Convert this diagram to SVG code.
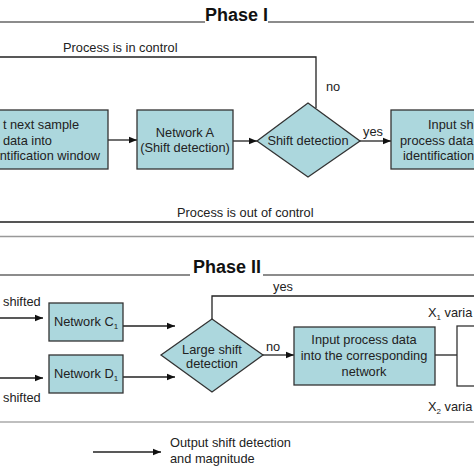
<svg xmlns="http://www.w3.org/2000/svg" width="474" height="474" viewBox="0 0 474 474">
<defs>
<marker id="ah" markerWidth="9" markerHeight="8" refX="8" refY="4" orient="auto" markerUnits="userSpaceOnUse">
<path d="M0,0.8 L8,4 L0,7.2 Z" fill="#111"/>
</marker>
<style>
.t{font-family:"Liberation Sans",Arial,sans-serif;font-size:12.8px;fill:#222}
.m{text-anchor:middle}
.h{font-family:"Liberation Sans",Arial,sans-serif;font-size:18px;font-weight:bold;fill:#111}
.box{fill:#acd7dd;stroke:#333;stroke-width:1.3}
.wbox{fill:#fff;stroke:#333;stroke-width:1.3}
.ln{fill:none;stroke:#222;stroke-width:1.3}
.ar{fill:none;stroke:#222;stroke-width:1.3;marker-end:url(#ah)}
.sep{stroke:#666;stroke-width:1.5}
</style>
</defs>
<rect width="474" height="474" fill="#fff"/>

<!-- section titles and separators -->
<g id="phase1-title">
<line class="sep" x1="0" y1="22" x2="205" y2="22"/>
<line class="sep" x1="268" y1="22" x2="474" y2="22"/>
<text class="h" x="205" y="21">Phase I</text>
</g>
<g id="separators">
<line x1="0" y1="222" x2="474" y2="222" stroke="#555" stroke-width="2"/>
<line x1="0" y1="236.5" x2="474" y2="236.5" stroke="#999" stroke-width="1.5"/>
<line x1="0" y1="422" x2="474" y2="422" stroke="#aaa" stroke-width="1.5"/>
</g>
<g id="phase2-title">
<line class="sep" x1="0" y1="275" x2="190" y2="275"/>
<line class="sep" x1="263" y1="275" x2="474" y2="275"/>
<text class="h" x="193" y="273">Phase II</text>
</g>

<!-- connectors -->
<g id="connectors">
<polyline class="ln" points="0,57 316,57 316,108"/>
<line class="ar" x1="108" y1="140" x2="137" y2="140"/>
<line class="ar" x1="233" y1="141" x2="257" y2="141"/>
<line class="ar" x1="360" y1="141" x2="391" y2="141"/>
<line class="ar" x1="0" y1="318" x2="43" y2="318"/>
<line class="ar" x1="0" y1="378" x2="43" y2="378"/>
<line class="ar" x1="123" y1="326" x2="175" y2="326"/>
<line class="ar" x1="123" y1="377" x2="175" y2="377"/>
<polyline class="ln" points="212,319 212,296 474,296"/>
<line class="ar" x1="263" y1="355" x2="294" y2="355"/>
<line class="ln" x1="435" y1="355" x2="457" y2="355"/>
<line class="ar" x1="93" y1="452" x2="161" y2="452"/>
</g>

<!-- connector labels -->
<g id="labels">
<text class="t" x="63" y="52">Process is in control</text>
<text class="t" x="326" y="91">no</text>
<text class="t" x="363" y="136">yes</text>
<text class="t" x="177" y="217">Process is out of control</text>
<text class="t" x="273" y="291">yes</text>
<text class="t" x="3" y="306">shifted</text>
<text class="t" x="3" y="402">shifted</text>
<text class="t" x="266" y="351">no</text>
<text class="t" x="428" y="317">X<tspan font-size="8" dy="3">1</tspan><tspan dy="-3"> varia</tspan></text>
<text class="t" x="428" y="411">X<tspan font-size="8" dy="3">2</tspan><tspan dy="-3"> varia</tspan></text>
</g>

<!-- Phase I nodes -->
<g id="input-next-sample">
<rect class="box" x="-10" y="110" width="118" height="59"/>
<text class="t" x="79" y="129" text-anchor="end">t next sample</text>
<text class="t" x="52" y="145" text-anchor="end">data into</text>
<text class="t" x="100" y="160" text-anchor="end">ntification window</text>
</g>
<g id="network-a">
<rect class="box" x="137" y="110" width="96" height="59"/>
<text class="t m" x="185" y="137">Network A</text>
<text class="t m" x="185" y="152">(Shift detection)</text>
</g>
<g id="shift-detection">
<polygon class="box" points="308,103 360,141 308,177 257,141"/>
<text class="t m" x="308" y="145">Shift detection</text>
</g>
<g id="input-shifted">
<rect class="box" x="391" y="110" width="95" height="59"/>
<text class="t" x="428" y="129">Input sh</text>
<text class="t" x="400" y="145" font-size="12.3">process data</text>
<text class="t" x="403" y="160">identification</text>
</g>

<!-- Phase II nodes -->
<g id="network-c1">
<rect class="box" x="49" y="303" width="74" height="38"/>
<text class="t m" x="86" y="326">Network C<tspan font-size="8" dy="3">1</tspan></text>
</g>
<g id="network-d1">
<rect class="box" x="49" y="355" width="74" height="38"/>
<text class="t m" x="86" y="378">Network D<tspan font-size="8" dy="3">1</tspan></text>
</g>
<g id="large-shift">
<polygon class="box" points="212,319 263,355 212,392 161,355"/>
<text class="t m" x="212" y="354">Large shift</text>
<text class="t m" x="212" y="368">detection</text>
</g>
<g id="input-process">
<rect class="box" x="294" y="327" width="141" height="58"/>
<text class="t m" x="364" y="344">Input process data</text>
<text class="t m" x="364" y="360">into the corresponding</text>
<text class="t m" x="364" y="376">network</text>
</g>
<g id="right-box">
<rect class="wbox" x="457" y="326" width="30" height="60"/>
</g>

<!-- legend -->
<g id="legend">
<text class="t" x="170" y="447">Output shift detection</text>
<text class="t" x="170" y="463">and magnitude</text>
</g>
</svg>
